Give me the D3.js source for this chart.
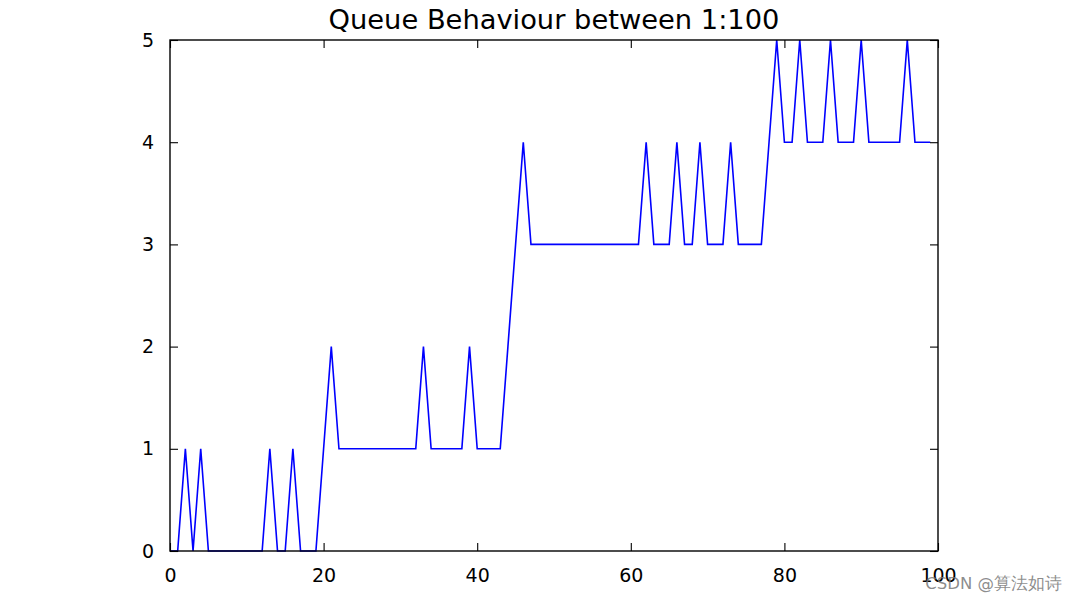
<!DOCTYPE html>
<html>
<head>
<meta charset="utf-8">
<script src="https://cdn.jsdelivr.net/npm/d3@7/dist/d3.min.js"></script>
<style>
  html, body { margin: 0; padding: 0; background: #fff; }
  svg { display: block; }
  text { font-family: "DejaVu Sans", sans-serif; fill: #000; }
</style>
</head>
<body>
<svg id="chart" width="1076" height="602"></svg>
<script>
// ---- data ----
const title = "Queue Behaviour between 1:100";
const steps = d3.range(0, 100);
const queueLength = [
  0, 0, 1, 0, 1, 0, 0, 0, 0, 0,
  0, 0, 0, 1, 0, 0, 1, 0, 0, 0,
  1, 2, 1, 1, 1, 1, 1, 1, 1, 1,
  1, 1, 1, 2, 1, 1, 1, 1, 1, 2,
  1, 1, 1, 1, 2, 3, 4, 3, 3, 3,
  3, 3, 3, 3, 3, 3, 3, 3, 3, 3,
  3, 3, 4, 3, 3, 3, 4, 3, 3, 4,
  3, 3, 3, 4, 3, 3, 3, 3, 4, 5,
  4, 4, 5, 4, 4, 4, 5, 4, 4, 4,
  5, 4, 4, 4, 4, 4, 5, 4, 4, 4
];
const xTicks = [0, 20, 40, 60, 80, 100];
const yTicks = [0, 1, 2, 3, 4, 5];
const watermark = "CSDN @算法如诗";

// ---- layout ----
const svg = d3.select("#chart");
const L = 170, R = 938, T = 40, B = 551;
const x = d3.scaleLinear().domain([0, 100]).range([L, R]);
const y = d3.scaleLinear().domain([0, 5]).range([B, T]);
const tickLen = 8;
const fs = 19;

// line
const line = d3.line().x((d, i) => x(steps[i])).y(d => y(d));
svg.append("path")
  .datum(queueLength)
  .attr("d", line)
  .attr("fill", "none")
  .attr("stroke", "#0000ff")
  .attr("stroke-width", 1.6)
  .attr("stroke-linejoin", "miter");

// axes (inward ticks on all four sides)
const fmt = d3.format("d");
const axB = d3.axisBottom(x).tickValues(xTicks).tickFormat(fmt).tickSizeInner(-tickLen).tickSizeOuter(0).tickPadding(tickLen + 10);
const axT = d3.axisTop(x).tickValues(xTicks).tickSizeInner(-tickLen).tickSizeOuter(0).tickFormat("");
const axLf = d3.axisLeft(y).tickValues(yTicks).tickFormat(fmt).tickSizeInner(-tickLen).tickSizeOuter(0).tickPadding(tickLen + 8);
const axRt = d3.axisRight(y).tickValues(yTicks).tickSizeInner(-tickLen).tickSizeOuter(0).tickFormat("");

function style(g) {
  g.select(".domain").remove();
  g.selectAll(".tick line").attr("stroke", "#000").attr("stroke-width", 1.1);
  g.selectAll(".tick text").attr("font-family", "DejaVu Sans, sans-serif").attr("font-size", fs).attr("fill", "#000");
}
svg.append("g").attr("transform", `translate(0,${B})`).call(axB).call(style);
svg.append("g").attr("transform", `translate(0,${T})`).call(axT).call(style);
svg.append("g").attr("transform", `translate(${L},0)`).call(axLf).call(style);
svg.append("g").attr("transform", `translate(${R},0)`).call(axRt).call(style);

// frame
svg.append("rect")
  .attr("x", L).attr("y", T).attr("width", R - L).attr("height", B - T)
  .attr("fill", "none").attr("stroke", "#000").attr("stroke-width", 1.4);

// title
svg.append("text")
  .attr("x", (L + R) / 2).attr("y", 29)
  .attr("text-anchor", "middle")
  .attr("font-size", 27.3)
  .text(title);

// watermark
svg.append("text")
  .attr("x", 1062).attr("y", 589)
  .attr("text-anchor", "end")
  .attr("font-family", "'Noto Sans CJK SC', sans-serif")
  .attr("font-size", 16.5)
  .style("fill", "rgba(120,120,120,0.85)")
  .text(watermark);
</script>
</body>
</html>
